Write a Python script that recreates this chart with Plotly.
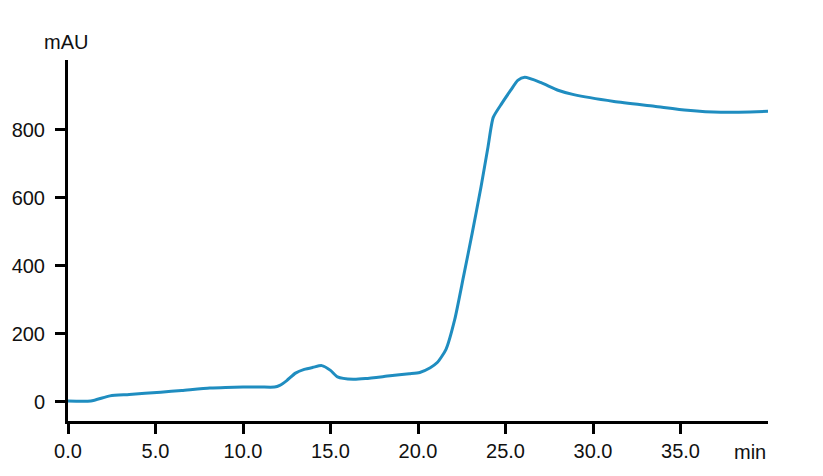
import plotly.graph_objects as go

time_min = [0, 1.3, 2.4, 3.5, 5.3, 6.5, 8.1, 9, 10, 11, 11.8, 12.1, 12.5, 13.0, 13.5, 14.0, 14.5, 15,
            15.4, 16.3, 17, 18.4, 19.5, 20.1, 20.7, 21.1, 21.6, 22.1, 22.6, 23.1, 23.6, 24.0, 24.3,
            24.8, 25.3, 25.7, 26.1, 27.0, 28.0, 28.9, 31.2, 33.5, 35.4, 37.3, 40]
absorbance_mau = [2, 2, 17, 21, 28, 33, 40, 42, 43, 43, 43, 48, 62, 84, 95, 101, 106, 92,
                  73, 66, 68, 76, 82, 86, 100, 115, 154, 242, 368, 497, 632, 750, 837,
                  879, 917, 946, 955, 940, 917, 904, 884, 870, 858, 852, 855]
x_ticks = [0, 5, 10, 15, 20, 25, 30, 35]
y_ticks = [0, 200, 400, 600, 800]

# page body has an 8px offset; plot area target in page pixels
PL, PB, PW, PH = 68, 421, 700, 361
OFF = 8

fig = go.Figure()
fig.add_trace(go.Scatter(x=time_min, y=absorbance_mau, mode="lines",
                         line=dict(color="#1f8dc0", width=3, shape="spline", smoothing=0.6),
                         hoverinfo="skip"))

font = dict(family="Liberation Sans, Arial, sans-serif", size=20, color="#111111")
fig.update_layout(
    width=823, height=476,
    margin=dict(l=PL - OFF, r=823 - (PL - OFF) - PW, t=(PB - PH) - OFF, b=476 - (PB - OFF)),
    paper_bgcolor="white", plot_bgcolor="white",
    showlegend=False, font=font,
    xaxis=dict(range=[0, 40], tickvals=x_ticks, tickformat=".1f", showgrid=False, zeroline=False,
               showline=True, linecolor="black", linewidth=3, ticks="outside", ticklen=10,
               tickwidth=3, tickcolor="black", tickfont=font, automargin=False),
    yaxis=dict(range=[-57, 1006], tickvals=y_ticks, showgrid=False, zeroline=False,
               showline=True, linecolor="black", linewidth=3, ticks="outside", ticklen=10,
               tickwidth=3, tickcolor="black", tickfont=font, ticklabelstandoff=6, automargin=False),
    annotations=[
        dict(text="mAU", xref="paper", yref="paper", showarrow=False, font=font,
             x=(66 - PL) / PW, y=(PB - 42) / PH, xanchor="center", yanchor="middle"),
        dict(text="min", xref="paper", yref="paper", showarrow=False, font=font,
             x=(750 - PL) / PW, y=(PB - 452) / PH, xanchor="center", yanchor="middle"),
    ],
)
fig.write_html("out.html")
